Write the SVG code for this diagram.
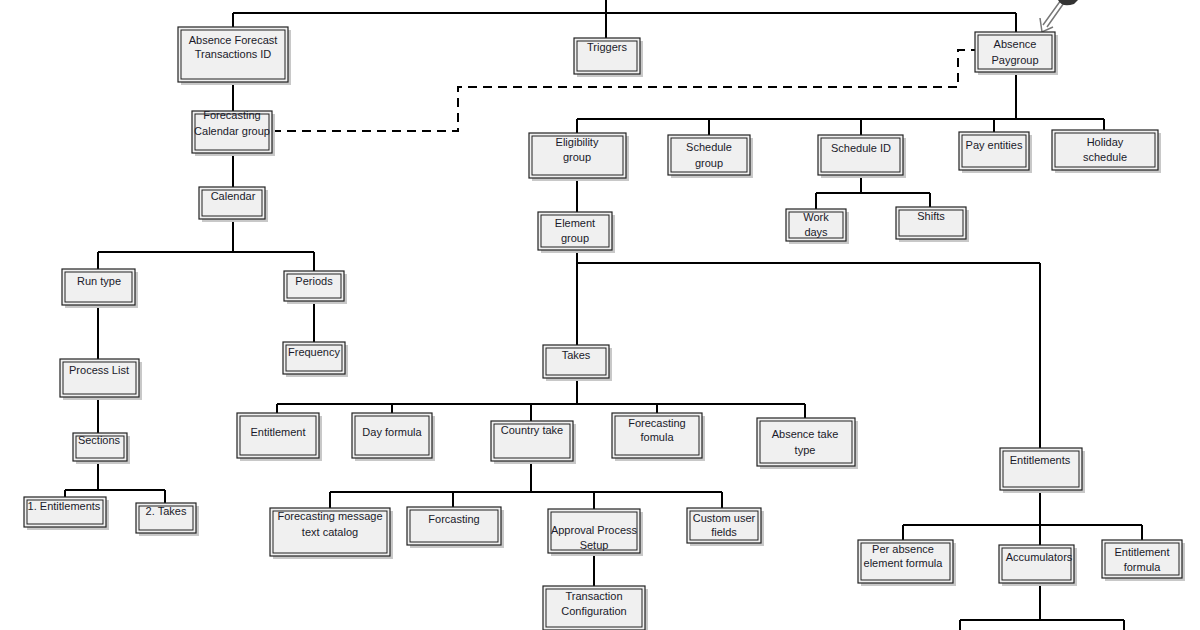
<svg xmlns="http://www.w3.org/2000/svg" width="1200" height="630" viewBox="0 0 1200 630">
<style>
.s{fill:#c8c8c8}
.o{fill:#f0f0f0;stroke:#222;stroke-width:1.2}
.i{fill:none;stroke:#222;stroke-width:1}
text{font-family:"Liberation Sans",Arial,sans-serif;font-size:11px;fill:#1a1a2a;text-anchor:middle}
.c{fill:none;stroke:#000;stroke-width:2}
.d{fill:none;stroke:#000;stroke-width:2;stroke-dasharray:9,6}
</style>
<rect width="1200" height="630" fill="#fff"/>
<g id="connectors">
<path class="c" d="M606 0V13M233 13H1016M233 13V27M606 13V38M1016 13V32"/>
<path class="c" d="M233 82V111M233 153V187M233 219V252M98 252H314M98 252V269M314 252V271M314 301V342M98 305V359M98 397V433M98 461V490M65 490H165M65 490V497M165 490V503"/>
<path class="d" d="M272 131H458V87H958V50H975"/>
<path class="c" d="M1016 72V119M577 119H1104M577 119V133M709 119V135M861 119V135M994 119V132M1104 119V130"/>
<path class="c" d="M861 175V193M816 193H930M816 193V209M930 193V207"/>
<path class="c" d="M577 178V212M577 250V263M577 263H1040M577 263V345M1040 263V448"/>
<path class="c" d="M577 378V404M277 404H805M277 404V413M392 404V413M531 404V421M657 404V413M805 404V418"/>
<path class="c" d="M531 461V492M330 492H722M330 492V508M453 492V507M594 492V509M722 492V508M594 553V586"/>
<path class="c" d="M1040 490V525M903 525H1142M903 525V540M1040 525V545M1142 525V540"/>
<path class="c" d="M1040 583V620M960 620H1124M960 620V630M1124 620V630"/>
<path d="M1066 0L1047 27M1061 0L1043 25" fill="none" stroke="#777" stroke-width="1.5"/>
<path d="M1040 18L1042 32L1053 27" fill="none" stroke="#777" stroke-width="1.5"/>
<path d="M1058 0Q1062 8 1074 4L1078 0Z" fill="#333"/>
</g>
<g id="n1"><rect class="s" x="181" y="30" width="110" height="55"/><rect class="o" x="178" y="27" width="110" height="55"/><rect class="i" x="181" y="30" width="104" height="49"/><text x="233" y="44">Absence Forecast</text><text x="233" y="58">Transactions ID</text></g>
<g id="n2"><rect class="s" x="577" y="41" width="66" height="36"/><rect class="o" x="574" y="38" width="66" height="36"/><rect class="i" x="577" y="41" width="60" height="30"/><text x="607" y="51">Triggers</text></g>
<g id="n3"><rect class="s" x="978" y="35" width="80" height="40"/><rect class="o" x="975" y="32" width="80" height="40"/><rect class="i" x="978" y="35" width="74" height="34"/><text x="1015" y="48">Absence</text><text x="1015" y="64">Paygroup</text></g>
<g id="n4"><rect class="s" x="195" y="114" width="80" height="42"/><rect class="o" x="192" y="111" width="80" height="42"/><rect class="i" x="195" y="114" width="74" height="36"/><text x="232" y="119">Forecasting</text><text x="232" y="135">Calendar group</text></g>
<g id="n5"><rect class="s" x="202" y="190" width="66" height="32"/><rect class="o" x="199" y="187" width="66" height="32"/><rect class="i" x="202" y="190" width="60" height="26"/><text x="233" y="200">Calendar</text></g>
<g id="n6"><rect class="s" x="532" y="136" width="97" height="45"/><rect class="o" x="529" y="133" width="97" height="45"/><rect class="i" x="532" y="136" width="91" height="39"/><text x="577" y="146">Eligibility</text><text x="577" y="161">group</text></g>
<g id="n7"><rect class="s" x="671" y="138" width="82" height="40"/><rect class="o" x="668" y="135" width="82" height="40"/><rect class="i" x="671" y="138" width="76" height="34"/><text x="709" y="151">Schedule</text><text x="709" y="167">group</text></g>
<g id="n8"><rect class="s" x="821" y="138" width="85" height="40"/><rect class="o" x="818" y="135" width="85" height="40"/><rect class="i" x="821" y="138" width="79" height="34"/><text x="861" y="152">Schedule ID</text></g>
<g id="n9"><rect class="s" x="962" y="135" width="70" height="38"/><rect class="o" x="959" y="132" width="70" height="38"/><rect class="i" x="962" y="135" width="64" height="32"/><text x="994" y="149">Pay entities</text></g>
<g id="n10"><rect class="s" x="1055" y="133" width="106" height="40"/><rect class="o" x="1052" y="130" width="106" height="40"/><rect class="i" x="1055" y="133" width="100" height="34"/><text x="1105" y="146">Holiday</text><text x="1105" y="161">schedule</text></g>
<g id="n11"><rect class="s" x="789" y="212" width="60" height="32"/><rect class="o" x="786" y="209" width="60" height="32"/><rect class="i" x="789" y="212" width="54" height="26"/><text x="816" y="221">Work</text><text x="816" y="236">days</text></g>
<g id="n12"><rect class="s" x="899" y="210" width="70" height="32"/><rect class="o" x="896" y="207" width="70" height="32"/><rect class="i" x="899" y="210" width="64" height="26"/><text x="931" y="220">Shifts</text></g>
<g id="n13"><rect class="s" x="541" y="215" width="74" height="38"/><rect class="o" x="538" y="212" width="74" height="38"/><rect class="i" x="541" y="215" width="68" height="32"/><text x="575" y="227">Element</text><text x="575" y="242">group</text></g>
<g id="n14"><rect class="s" x="65" y="272" width="73" height="36"/><rect class="o" x="62" y="269" width="73" height="36"/><rect class="i" x="65" y="272" width="67" height="30"/><text x="99" y="285">Run type</text></g>
<g id="n15"><rect class="s" x="287" y="274" width="60" height="30"/><rect class="o" x="284" y="271" width="60" height="30"/><rect class="i" x="287" y="274" width="54" height="24"/><text x="314" y="285">Periods</text></g>
<g id="n16"><rect class="s" x="286" y="345" width="62" height="32"/><rect class="o" x="283" y="342" width="62" height="32"/><rect class="i" x="286" y="345" width="56" height="26"/><text x="314" y="356">Frequency</text></g>
<g id="n17"><rect class="s" x="63" y="362" width="79" height="38"/><rect class="o" x="60" y="359" width="79" height="38"/><rect class="i" x="63" y="362" width="73" height="32"/><text x="99" y="374">Process List</text></g>
<g id="n18"><rect class="s" x="546" y="348" width="66" height="33"/><rect class="o" x="543" y="345" width="66" height="33"/><rect class="i" x="546" y="348" width="60" height="27"/><text x="576" y="359">Takes</text></g>
<g id="n19"><rect class="s" x="76" y="436" width="54" height="28"/><rect class="o" x="73" y="433" width="54" height="28"/><rect class="i" x="76" y="436" width="48" height="22"/><text x="99" y="444">Sections</text></g>
<g id="n20"><rect class="s" x="240" y="416" width="82" height="45"/><rect class="o" x="237" y="413" width="82" height="45"/><rect class="i" x="240" y="416" width="76" height="39"/><text x="278" y="436">Entitlement</text></g>
<g id="n21"><rect class="s" x="355" y="416" width="80" height="45"/><rect class="o" x="352" y="413" width="80" height="45"/><rect class="i" x="355" y="416" width="74" height="39"/><text x="392" y="436">Day formula</text></g>
<g id="n22"><rect class="s" x="494" y="424" width="82" height="40"/><rect class="o" x="491" y="421" width="82" height="40"/><rect class="i" x="494" y="424" width="76" height="34"/><text x="532" y="434">Country take</text></g>
<g id="n23"><rect class="s" x="615" y="416" width="90" height="45"/><rect class="o" x="612" y="413" width="90" height="45"/><rect class="i" x="615" y="416" width="84" height="39"/><text x="657" y="427">Forecasting</text><text x="657" y="441">fomula</text></g>
<g id="n24"><rect class="s" x="760" y="421" width="98" height="48"/><rect class="o" x="757" y="418" width="98" height="48"/><rect class="i" x="760" y="421" width="92" height="42"/><text x="805" y="438">Absence take</text><text x="805" y="454">type</text></g>
<g id="n25"><rect class="s" x="1003" y="451" width="82" height="42"/><rect class="o" x="1000" y="448" width="82" height="42"/><rect class="i" x="1003" y="451" width="76" height="36"/><text x="1040" y="464">Entitlements</text></g>
<g id="n26"><rect class="s" x="27" y="500" width="82" height="30"/><rect class="o" x="24" y="497" width="82" height="30"/><rect class="i" x="27" y="500" width="76" height="24"/><text x="64" y="510">1. Entitlements</text></g>
<g id="n27"><rect class="s" x="139" y="506" width="60" height="30"/><rect class="o" x="136" y="503" width="60" height="30"/><rect class="i" x="139" y="506" width="54" height="24"/><text x="166" y="515">2. Takes</text></g>
<g id="n28"><rect class="s" x="273" y="511" width="120" height="48"/><rect class="o" x="270" y="508" width="120" height="48"/><rect class="i" x="273" y="511" width="114" height="42"/><text x="330" y="520">Forecasting message</text><text x="330" y="536">text catalog</text></g>
<g id="n29"><rect class="s" x="410" y="510" width="94" height="38"/><rect class="o" x="407" y="507" width="94" height="38"/><rect class="i" x="410" y="510" width="88" height="32"/><text x="454" y="523">Forcasting</text></g>
<g id="n30"><rect class="s" x="551" y="512" width="92" height="44"/><rect class="o" x="548" y="509" width="92" height="44"/><rect class="i" x="551" y="512" width="86" height="38"/><text x="594" y="534">Approval Process</text><text x="594" y="549">Setup</text></g>
<g id="n31"><rect class="s" x="690" y="511" width="74" height="35"/><rect class="o" x="687" y="508" width="74" height="35"/><rect class="i" x="690" y="511" width="68" height="29"/><text x="724" y="522">Custom user</text><text x="724" y="536">fields</text></g>
<g id="n32"><rect class="s" x="546" y="589" width="102" height="44"/><rect class="o" x="543" y="586" width="102" height="44"/><rect class="i" x="546" y="589" width="96" height="38"/><text x="594" y="600">Transaction</text><text x="594" y="615">Configuration</text></g>
<g id="n33"><rect class="s" x="861" y="543" width="95" height="43"/><rect class="o" x="858" y="540" width="95" height="43"/><rect class="i" x="861" y="543" width="89" height="37"/><text x="903" y="553">Per absence</text><text x="903" y="567">element formula</text></g>
<g id="n34"><rect class="s" x="1002" y="548" width="75" height="38"/><rect class="o" x="999" y="545" width="75" height="38"/><rect class="i" x="1002" y="548" width="69" height="32"/><text x="1039" y="561">Accumulators</text></g>
<g id="n35"><rect class="s" x="1105" y="543" width="80" height="38"/><rect class="o" x="1102" y="540" width="80" height="38"/><rect class="i" x="1105" y="543" width="74" height="32"/><text x="1142" y="556">Entitlement</text><text x="1142" y="571">formula</text></g>
</svg>
